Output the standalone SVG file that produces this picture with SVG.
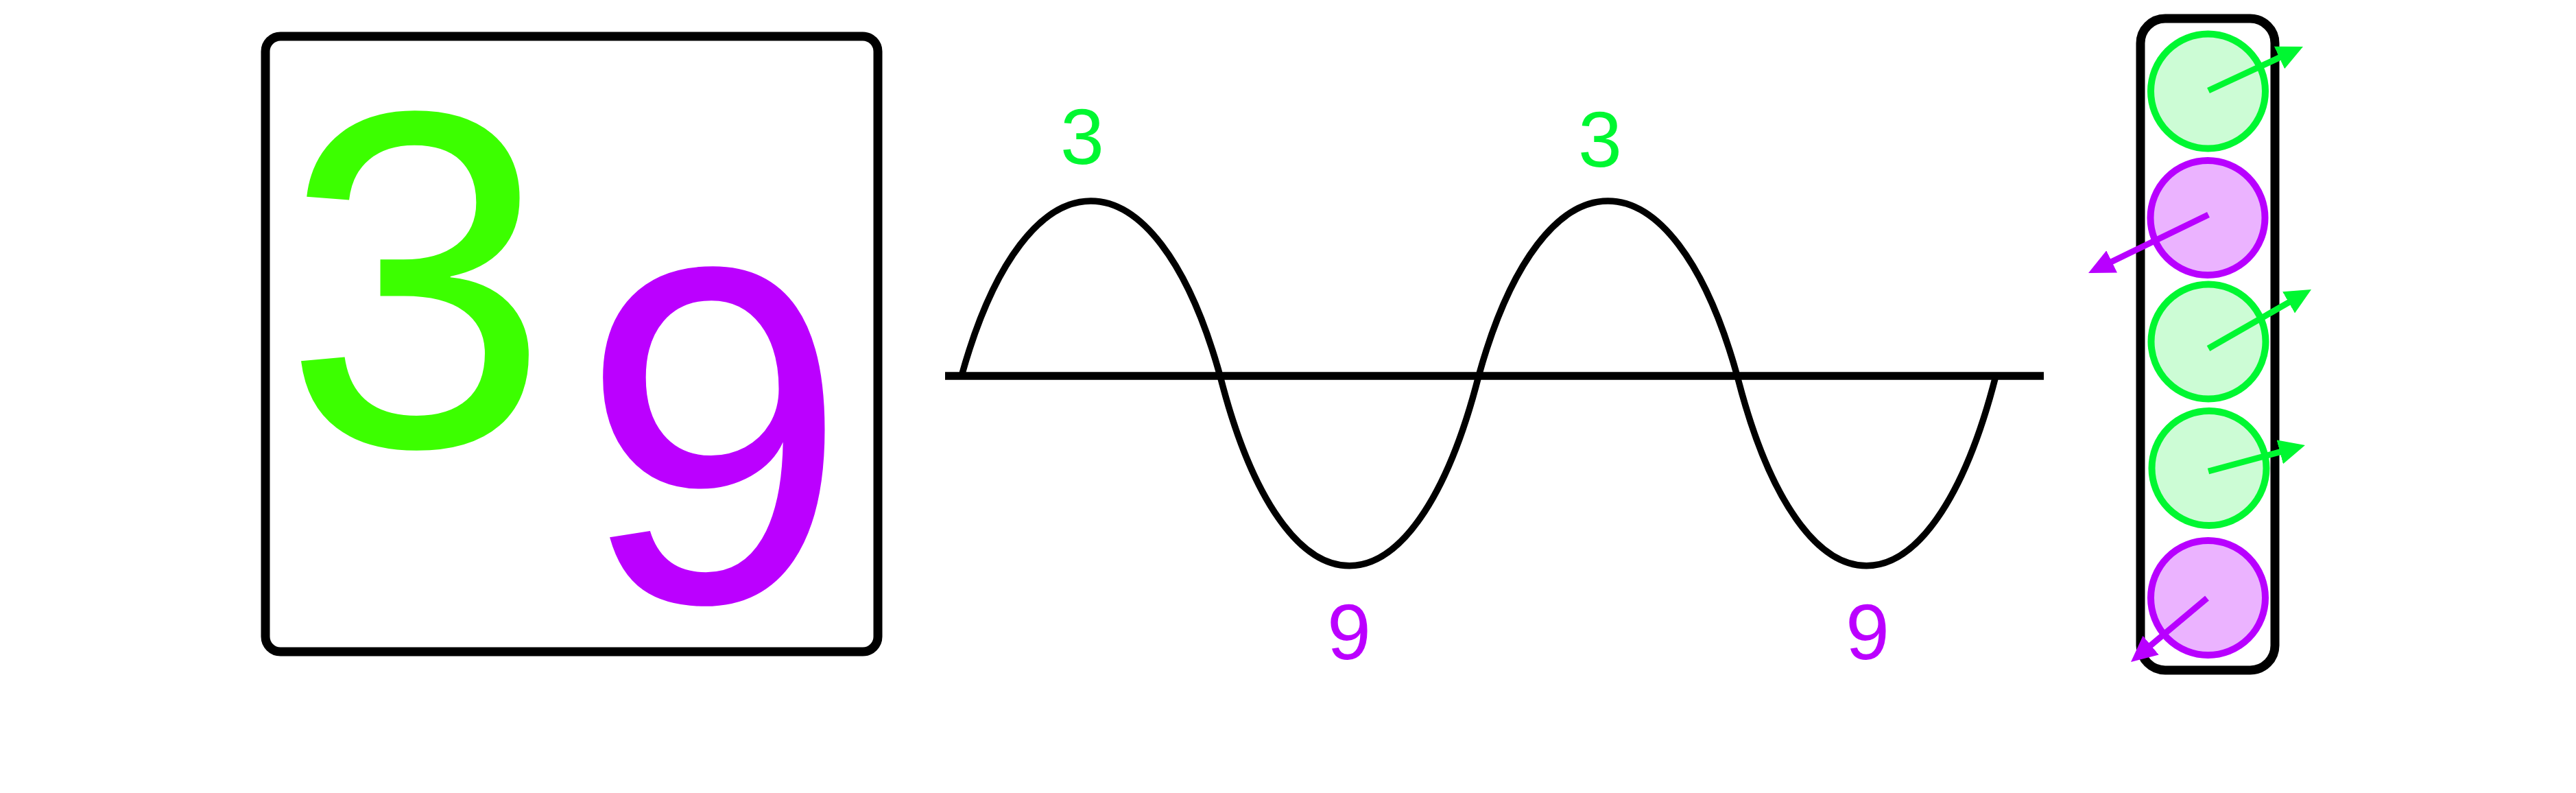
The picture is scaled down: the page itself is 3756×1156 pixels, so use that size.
<svg xmlns="http://www.w3.org/2000/svg" width="3756" height="1156" viewBox="0 0 3756 1156">
  <style>
    .frame { fill: none; stroke: #000000; stroke-width: 13; }
    .big { font-family: "Liberation Sans", Arial, sans-serif; font-size: 700px; text-anchor: middle; }
    .small { font-family: "Liberation Sans", Arial, sans-serif; font-size: 115px; text-anchor: middle; }
    .lime { fill: #3CFF00; }
    .grn { fill: #00F731; }
    .pur { fill: #BB00FF; }
    .cg { fill: #CCFCD5; stroke: #00F731; stroke-width: 10; }
    .cp { fill: #EBB3FF; stroke: #B800FF; stroke-width: 10; }
    .ag { stroke: #00F731; stroke-width: 9; fill: none; marker-end: url(#headG); }
    .ap { stroke: #B800FF; stroke-width: 9; fill: none; marker-end: url(#headP); }
  </style>
  <defs>
    <marker id="headG" viewBox="0 0 38 36" markerUnits="userSpaceOnUse" markerWidth="38" markerHeight="36" refX="2" refY="18" orient="auto">
      <path d="M0,0 L38,18 L0,36 Z" fill="#00F731"/>
    </marker>
    <marker id="headP" viewBox="0 0 38 36" markerUnits="userSpaceOnUse" markerWidth="38" markerHeight="36" refX="2" refY="18" orient="auto">
      <path d="M0,0 L38,18 L0,36 Z" fill="#B800FF"/>
    </marker>
  </defs>
  <rect width="3756" height="1156" fill="#FFFFFF"/>

  <g id="card">
    <rect class="frame" x="387" y="53" width="893" height="897" rx="22"/>
    <text class="big lime" x="607" y="650">3</text>
    <text class="big pur" x="1041" y="877">9</text>
  </g>

  <g id="wave">
    <line x1="1378" y1="548" x2="2980" y2="548" stroke="#000000" stroke-width="11.5"/>
    <path fill="none" stroke="#000000" stroke-width="9.5" stroke-linejoin="round" d="M1402,548 c94.25,-340 282.75,-340 377,0 c94.25,369 282.75,369 377,0 c94.25,-340 282.75,-340 377,0 c94.25,369 282.75,369 377,0"/>
    <text class="small grn" x="1578" y="239">3</text>
    <text class="small grn" x="2333" y="243">3</text>
    <text class="small pur" x="1967" y="961">9</text>
    <text class="small pur" x="2723" y="961">9</text>
  </g>

  <g id="column">
    <rect class="frame" x="3121" y="27" width="196" height="950" rx="36" stroke-width="10"/>
  </g>
  <g id="spin1"><circle class="cg" cx="3219.5" cy="133" r="83.5"/></g>
  <g id="spin2"><circle class="cp" cx="3219" cy="317.5" r="83.5"/></g>
  <g id="spin3"><circle class="cg" cx="3220" cy="498" r="83.5"/></g>
  <g id="spin4"><circle class="cg" cx="3221" cy="682.5" r="83.5"/></g>
  <g id="spin5"><circle class="cp" cx="3219.5" cy="871.5" r="83.5"/></g>

  <g id="connectors">
    <line class="ag" x1="3220" y1="132" x2="3325.3" y2="83.2"/>
    <line class="ap" x1="3220" y1="313" x2="3077.4" y2="382.3"/>
    <line class="ag" x1="3220" y1="508" x2="3338.8" y2="439.9"/>
    <line class="ag" x1="3220" y1="687" x2="3326.2" y2="658.4"/>
    <line class="ap" x1="3218" y1="872" x2="3134.6" y2="941.9"/>
  </g>
</svg>
